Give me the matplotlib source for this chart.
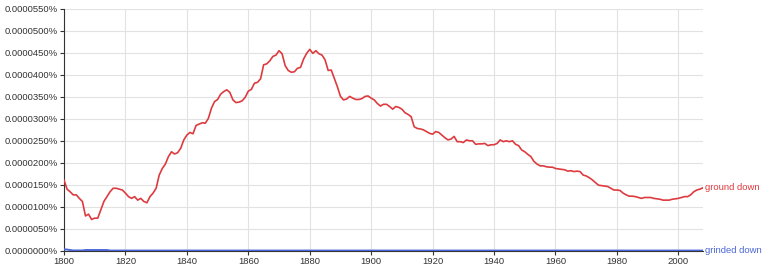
import numpy as np
import matplotlib.pyplot as plt
from matplotlib.ticker import FuncFormatter

plt.rcParams['font.family'] = ['Liberation Sans', 'DejaVu Sans']

# years, one value per year (units of 1e-6 %)
years = np.arange(1800, 2009)

ground_down = [
    16.1, 14.0, 13.4, 12.7, 12.7, 11.9, 11.2, 7.9, 8.3, 7.1,
    7.4, 7.4, 9.3, 11.2, 12.3, 13.4, 14.2, 14.2, 14.0, 13.8,
    13.1, 12.3, 11.9, 12.3, 11.5, 11.9, 11.2, 10.9, 12.3, 13.1,
    14.2, 17.2, 18.7, 19.7, 21.4, 22.5, 22.0, 22.3, 23.3, 25.2,
    26.3, 26.9, 26.6, 28.5, 28.8, 29.1, 29.0, 30.1, 32.4, 33.9,
    34.4, 35.6, 36.2, 36.6, 36.0, 34.3, 33.7, 33.8, 34.1, 34.9,
    36.3, 36.7, 38.1, 38.3, 39.1, 42.3, 42.5, 43.2, 44.2, 44.5,
    45.5, 44.8, 42.1, 41.0, 40.6, 40.7, 41.5, 41.7, 43.6, 44.9,
    45.8, 44.9, 45.5, 44.8, 44.5, 43.4, 41.0, 41.1, 39.2, 37.3,
    35.1, 34.3, 34.5, 35.1, 34.7, 34.4, 34.4, 34.6, 35.1, 35.2,
    34.7, 34.3, 33.5, 32.9, 33.3, 33.3, 32.8, 32.2, 32.8, 32.6,
    32.2, 31.4, 31.0, 30.5, 28.2, 27.8, 27.7, 27.5, 27.1, 26.7,
    26.5, 27.1, 26.9, 26.3, 25.7, 25.2, 25.4, 26.0, 24.8, 24.8,
    24.6, 25.2, 25.0, 25.0, 24.2, 24.3, 24.3, 24.4, 23.9, 24.1,
    24.1, 24.4, 25.2, 24.8, 25.0, 24.8, 25.0, 24.2, 23.9, 22.9,
    22.5, 21.9, 21.4, 20.3, 19.7, 19.3, 19.3, 19.1, 19.0, 19.0,
    18.7, 18.6, 18.5, 18.4, 18.1, 18.2, 18.0, 18.1, 18.0, 17.2,
    17.0, 16.6, 16.1, 15.5, 14.9, 14.8, 14.7, 14.6, 14.2, 13.8,
    13.8, 13.7, 13.1, 12.7, 12.4, 12.4, 12.3, 12.1, 11.9, 12.1,
    12.1, 12.1, 11.9, 11.8, 11.7, 11.5, 11.5, 11.5, 11.7, 11.8,
    11.9, 12.1, 12.3, 12.3, 12.7, 13.4, 13.8, 14.0, 14.3,
]

grinded_down = [0.3, 0.25, 0.15, 0.05, 0.05, 0.05, 0.05, 0.15, 0.15, 0.15,
                0.15, 0.15, 0.15, 0.15, 0.15] + [0.03] * (len(years) - 15)

red = '#dd3b3f'
blue = '#4b66d6'

fig = plt.figure(figsize=(7.68, 2.71), dpi=100)
ax = fig.add_axes([0.0833, 0.075, 0.832, 0.892])

ax.plot(years, grinded_down, color=blue, lw=1.4, zorder=3)
ax.plot(years, ground_down, color=red, lw=1.2, zorder=4)

ax.set_xlim(1800, 2008)
ax.set_ylim(0, 55)
ax.set_xticks(np.arange(1800, 2001, 20))
ax.set_yticks(np.arange(0, 56, 5))
ax.yaxis.set_major_formatter(FuncFormatter(lambda v, p: f"{v * 1e-6:.7f}%"))

ax.grid(True, color='#e2e2e2', lw=0.8)
ax.set_axisbelow(True)
for s in ['top', 'right']:
    ax.spines[s].set_visible(False)
ax.spines['left'].set_color('#333333')
ax.spines['bottom'].set_color('#333333')
ax.tick_params(labelsize=6.8, colors='#333333', length=3, width=0.8,
               labelcolor='#333333', pad=1.5)

ax.text(2008.7, ground_down[-1], 'ground down', color=red, fontsize=6.8,
        va='center', ha='left')
ax.text(2008.7, grinded_down[-1], 'grinded down', color=blue, fontsize=6.8,
        va='center', ha='left')

fig.savefig('out.png', dpi=100)
